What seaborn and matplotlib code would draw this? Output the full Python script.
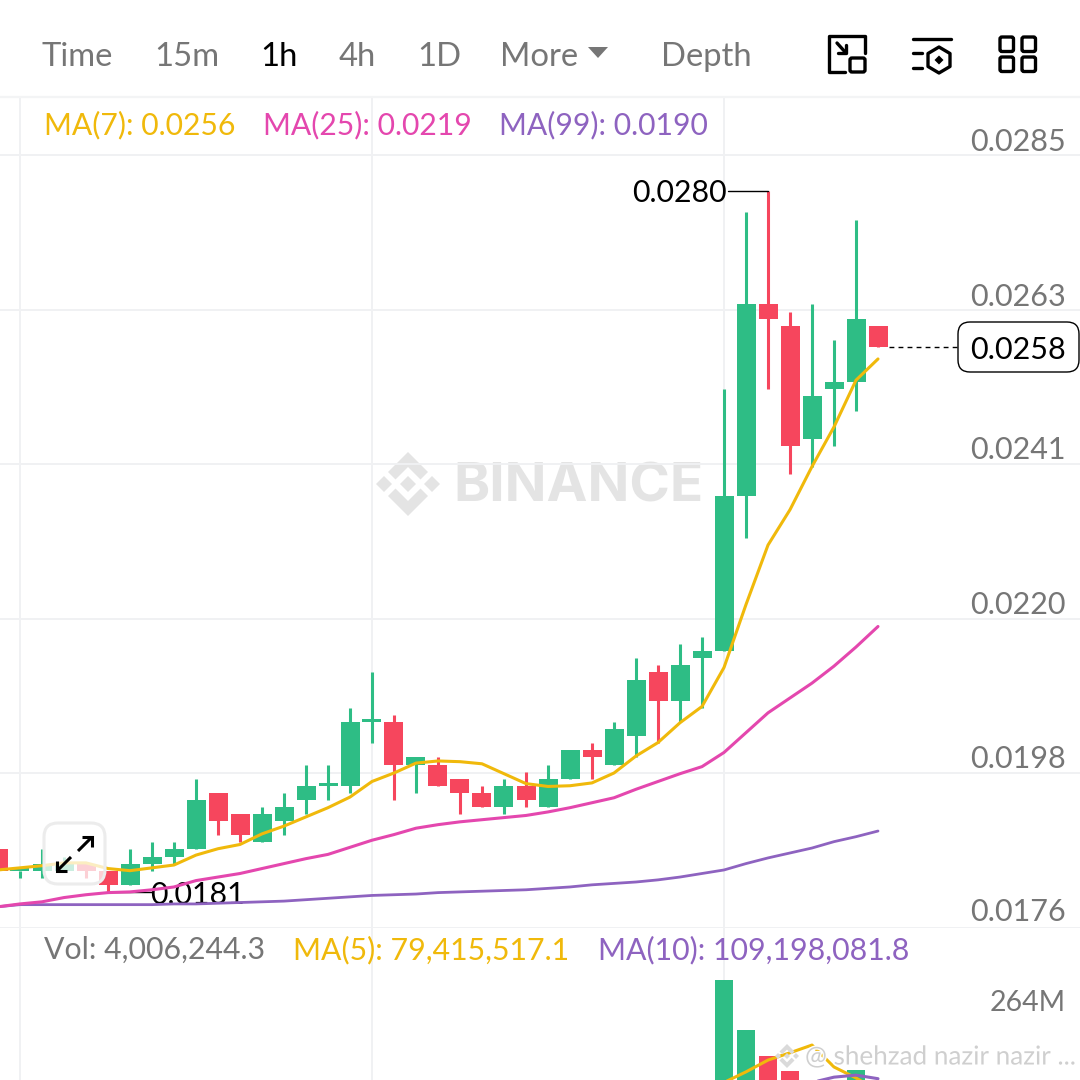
import numpy as np
import pandas as pd
import matplotlib
matplotlib.use("Agg")
import matplotlib.pyplot as plt
import matplotlib.patheffects as pe
from matplotlib.patches import FancyBboxPatch, Polygon, Rectangle
import seaborn as sns

# ---- data -------------------------------------------------------------
open_ = [.0187,.0184,.0184,.0184,.0185,.0184,.0182,.0185,.0186,.0187,.0195,.0192,.0188,.0191,.0194,.0196,.0196,.0205,.0205,.0199,.0199,
         .0197,.0195,.0193,.0196,.0193,.0197,.0201,.0199,.0203,.0212,.0208,.0214,.0215,.0237,.0264,.0261,.0245,.0252,.0253,.0261]
close = [.0184,.0184,.0185,.0185,.0184,.0182,.0185,.0186,.0187,.0194,.0191,.0189,.0192,.0193,.0196,.0196,.0205,.0205,.0199,.0200,.0196,
         .0195,.0193,.0196,.0194,.0197,.0201,.0200,.0204,.0211,.0208,.0213,.0215,.0237,.0264,.0262,.0244,.0251,.0253,.0262,.0258]
high  = [.0187,.0184,.0187,.0186,.0185,.0184,.0187,.0188,.0188,.0197,.0195,.0192,.0193,.0195,.0199,.0199,.0207,.0212,.0206,.0200,.0200,
         .0197,.0196,.0197,.0198,.0199,.0201,.0202,.0205,.0214,.0213,.0216,.0217,.0252,.0277,.0280,.0263,.0264,.0259,.0276,.0261]
low   = [.0184,.0183,.0183,.0184,.0183,.0181,.0182,.0184,.0185,.0187,.0189,.0188,.0188,.0189,.0192,.0194,.0195,.0202,.0194,.0195,.0196,
         .0192,.0193,.0192,.0193,.0193,.0197,.0197,.0199,.0200,.0202,.0205,.0207,.0215,.0231,.0252,.0240,.0241,.0244,.0249,.0258]
ma7 = [.01841,.01844,.01847,.01851,.01851,.01843,.01840,.01844,.01848,.01862,.01871,.01877,.01892,.01903,.01916,.01929,.01944,.01966,.01978,.01992,.01995,
       .01994,.01991,.01977,.01963,.01959,.01960,.01964,.01978,.02002,.02021,.02049,.02072,.02127,.02216,.02300,.02350,.02411,.02467,.02533,.02563]
ma25 = [.01789,.01793,.01796,.01802,.01806,.01809,.01810,.01813,.01817,.01826,.01831,.01836,.01843,.01850,.01857,.01863,.01873,.01883,.01891,.01900,.01905,
        .01909,.01912,.01915,.01918,.01923,.01929,.01936,.01943,.01955,.01966,.01977,.01987,.02007,.02035,.02063,.02084,.02105,.02129,.02156,.02185]
ma99 = [.01789,.01792,.01792,.01792,.01792,.01792,.01792,.01792,.01793,.01793,.01794,.01795,.01796,.01797,.01799,.01801,.01803,.01805,.01806,.01807,.01809,
        .01810,.01811,.01812,.01813,.01815,.01817,.01820,.01822,.01824,.01827,.01831,.01836,.01841,.01850,.01858,.01865,.01872,.01881,.01888,.01896]
vol_index = [33, 34, 35, 36, 37, 38, 39, 40]
volume = [352e6, 229e6, 165e6, 128e6, 70e6, 40e6, 130e6, 4.0e6]
vol_ma5 = [100e6, 126e6, 155e6, 173e6, 192e6, 138e6, 111e6, 79.4e6]
vol_ma10_index = [37, 38, 39, 40]
vol_ma10 = [100e6, 113e6, 118e6, 109.2e6]
price_ticks = [.02851, .02632, .02415, .02196, .01978, .01759]
price_labels = ["0.0285", "0.0263", "0.0241", "0.0220", "0.0198", "0.0176"]
time_grid = [1, 17, 33]
tabs = ["Time", "15m", "1h", "4h", "1D", "More", "Depth"]
legend_top = ["MA(7): 0.0256", "MA(25): 0.0219", "MA(99): 0.0190"]
legend_vol = ["Vol: 4,006,244.3", "MA(5): 79,415,517.1", "MA(10): 109,198,081.8"]

GREEN, RED = "#2EBD85", "#F6465D"
YEL, PINK, PUR = "#F0B90B", "#E447AE", "#8E63C0"
GREY, GRID = "#767676", "#F0F1F3"
WM = "#E4E4E4"

sns.set_theme(style="white")
plt.rcParams["font.family"] = ["Lato", "DejaVu Sans"]
W = 1080
fig = plt.figure(figsize=(10.8, 10.8), dpi=100, facecolor="white")

def fy(p):  # pixel y from the top -> figure fraction
    return 1 - p / W

ax = fig.add_axes([0, fy(928), 1, (928 - 97) / W])
axv = fig.add_axes([0, 0, 1, 152 / W])
ov = fig.add_axes([0, 0, 1, 1], zorder=10)
ov.set_xlim(0, W); ov.set_ylim(W, 0); ov.axis("off"); ov.patch.set_alpha(0)

xlim = (2 / 22, 1082 / 22)
idx = np.arange(len(open_))
df = pd.DataFrame(dict(i=idx, o=open_, c=close, h=high, l=low, ma7=ma7, ma25=ma25, ma99=ma99))
colors = [GREEN if c >= o else RED for o, c in zip(open_, close)]

# ---- watermark below the candles
def logo(target, cx, cy, r, color, z):
    s = r / 32
    top = [(0, -32), (20, -12), (12.5, -4.5), (0, -17), (-12.5, -4.5), (-20, -12)]
    bot = [(a, -b) for a, b in top]
    dia = lambda c: [(c - 8, 0), (c, -8), (c + 8, 0), (c, 8)]
    for pts in (top, bot, dia(0), dia(-24), dia(24)):
        target.add_patch(Polygon([(cx + a * s, cy + b * s) for a, b in pts], closed=True, fc=color, ec="none",
                                 transform=ov.transData, zorder=z, clip_on=False))

logo(ax, 408, 484, 32, WM, 0.5)
ax.text(453, 487, "BINANCE", transform=ov.transData, fontsize=39.5, fontweight="bold", color=WM,
        family=["Inter", "Lato"], va="center", ha="left", zorder=0.5)

# ---- candles
ax.vlines(df.i, df.l, df.h, colors=colors, lw=2.2, zorder=2)
ax.bar(df.i, np.maximum(np.abs(df.c - df.o), 0.00004), bottom=np.minimum(df.o, df.c), width=19 / 22,
       color=colors, zorder=3, linewidth=0)

# low / high markers (under the averages)
ax.plot([5, 7], [.0181, .0181], color="black", lw=1, zorder=3.5)
ax.text(150, 895, "0.0181", transform=ov.transData, fontsize=21.8, color="black", va="center", ha="left", zorder=3.5)
ax.plot([35, 33.2], [.0280, .0280], color="black", lw=1, zorder=3.5)
ax.text(727, 193, "0.0280", transform=ov.transData, fontsize=21.8, color="black", va="center", ha="right", zorder=3.5)
ax.plot([40.5, 43.6], [.0258, .0258], color="black", lw=1, dashes=(3.5, 3), zorder=3.5)

# ---- moving averages
for col, c, w in (("ma99", PUR, 2.0), ("ma25", PINK, 2.2), ("ma7", YEL, 2.2)):
    sns.lineplot(data=df, x="i", y=col, ax=ax, color=c, lw=w, zorder=4, errorbar=None)

ax.set_xlim(*xlim)
ax.set_ylim(.017594, .029331)
ax.set_yticks(price_ticks)
ax.set_xticks(time_grid)
ax.set_xticklabels([]); ax.set_yticklabels([])
ax.set_xlabel(""); ax.set_ylabel("")
ax.tick_params(length=0)
ax.grid(True, color=GRID, lw=1.4, zorder=0)
ax.set_axisbelow(True)
for s in ax.spines.values():
    s.set_visible(False)
for v, lab, off in zip(price_ticks, price_labels, [13.5, 13.5, 13.5, 13.5, 13.5, 16]):
    ax.annotate(lab, xy=(1, v), xycoords=ax.get_yaxis_transform(), xytext=(-14, off), textcoords="offset pixels",
                ha="right", va="center", fontsize=22, color=GREY, annotation_clip=False)

# ---- volume panel
dv = pd.DataFrame(dict(i=vol_index, v=volume, ma5=vol_ma5))
dv["side"] = [colors[i] for i in vol_index]
sns.barplot(data=dv, x="i", y="v", hue="side", palette={GREEN: GREEN, RED: RED}, native_scale=True, dodge=False,
            width=19 / 22, ax=axv, legend=False, linewidth=0, zorder=3, saturation=1)
sns.lineplot(data=dv, x="i", y="ma5", ax=axv, color=YEL, lw=2.2, zorder=4, errorbar=None)
sns.lineplot(x=vol_ma10_index, y=vol_ma10, ax=axv, color=PUR, lw=2.2, zorder=5, errorbar=None)
axv.set_xlim(*xlim)
axv.set_ylim(106e6, 480e6)
axv.set_xticks(time_grid); axv.set_xticklabels([])
axv.set_yticks([]); axv.set_xlabel(""); axv.set_ylabel("")
axv.tick_params(length=0)
axv.grid(True, axis="x", color=GRID, lw=1.4, zorder=0)
axv.set_axisbelow(True)
for s in axv.spines.values():
    s.set_visible(False)

# ---- header
ov.plot([0, W], [97, 97], color="#F3F4F5", lw=1.6)
for t, x in zip(tabs, [42, 154, 260, 339, 417, 500, 661]):
    ov.text(x, 57, t, fontsize=23.6, color="black" if t == "1h" else GREY, va="center", ha="left")
ov.add_patch(Polygon([(588, 47), (608, 47), (598, 58)], closed=True, fc=GREY, ec="none"))

for t, x, c in zip(legend_top, [44, 263, 499], [YEL, PINK, PUR]):
    ov.text(x, 125.5, t, fontsize=21.7, color=c, va="center", ha="left")
for t, x, c in zip(legend_vol, [44, 293, 598], [GREY, YEL, PUR]):
    ov.text(x, 950, t, fontsize=21.8, color=c, va="center", ha="left")
ov.text(1066, 1003, "264M", fontsize=20.5, color=GREY, va="center", ha="right")

# ---- current price tag
ov.add_patch(FancyBboxPatch((958, 322), 121, 50, boxstyle="round,pad=0,rounding_size=12", fc="white", ec="black", lw=1))
ov.text(1066, 350, "0.0258", fontsize=22, color="black", va="center", ha="right")

# ---- toolbar icons
kw = dict(color="black", lw=2.4, solid_capstyle="round", solid_joinstyle="round")
ov.plot([845, 829, 829, 865, 865], [72, 72, 36, 36, 53], **kw)
ov.add_patch(FancyBboxPatch((850, 58), 15, 14, boxstyle="round,pad=0,rounding_size=2", fc="none", ec="black", lw=2.4))
ov.plot([837, 846], [43, 53], **kw); ov.plot([838, 846, 846], [53, 53, 45], **kw)
ov.plot([913, 951], [39, 39], **kw)
ov.plot([913, 922], [53, 53], **kw); ov.plot([913, 922], [68, 68], **kw)
hx = [(939, 47), (950, 53.5), (950, 66.5), (939, 73), (928, 66.5), (928, 53.5)]
ov.add_patch(Polygon(hx, closed=True, fc="none", ec="black", lw=2.4, joinstyle="round"))
ov.add_patch(Polygon([(939, 55.5), (943.5, 60), (939, 64.5), (934.5, 60)], closed=True, fc="black", ec="none"))
for x0, y0 in [(1000, 37), (1022, 37), (1000, 57), (1022, 57)]:
    ov.add_patch(FancyBboxPatch((x0, y0), 13.5, 14.5, boxstyle="round,pad=0,rounding_size=2", fc="none", ec="black", lw=2.4))

# ---- expand button
ov.add_patch(FancyBboxPatch((44, 823), 61, 61, boxstyle="round,pad=0,rounding_size=14", fc=(1, 1, 1, .75),
                            ec="#ECECEC", lw=2.2))
kw2 = dict(color="black", lw=2.2, solid_capstyle="butt", solid_joinstyle="miter")
ov.plot([78, 92], [851, 837], **kw2); ov.plot([82, 92, 92], [837, 837, 847], **kw2)
ov.plot([71, 57], [857, 871], **kw2); ov.plot([57, 57, 67], [861, 871, 871], **kw2)

# ---- credit watermark
logo(ov, 787, 1056, 12, "#DADADA", 11)
ov.text(805, 1057, "@ shehzad nazir nazir ...", fontsize=18.8, color="#CFCFCF", va="center", ha="left", zorder=11,
        path_effects=[pe.withStroke(linewidth=2, foreground="white")])

fig.savefig("out.png", dpi=100, facecolor="white")
